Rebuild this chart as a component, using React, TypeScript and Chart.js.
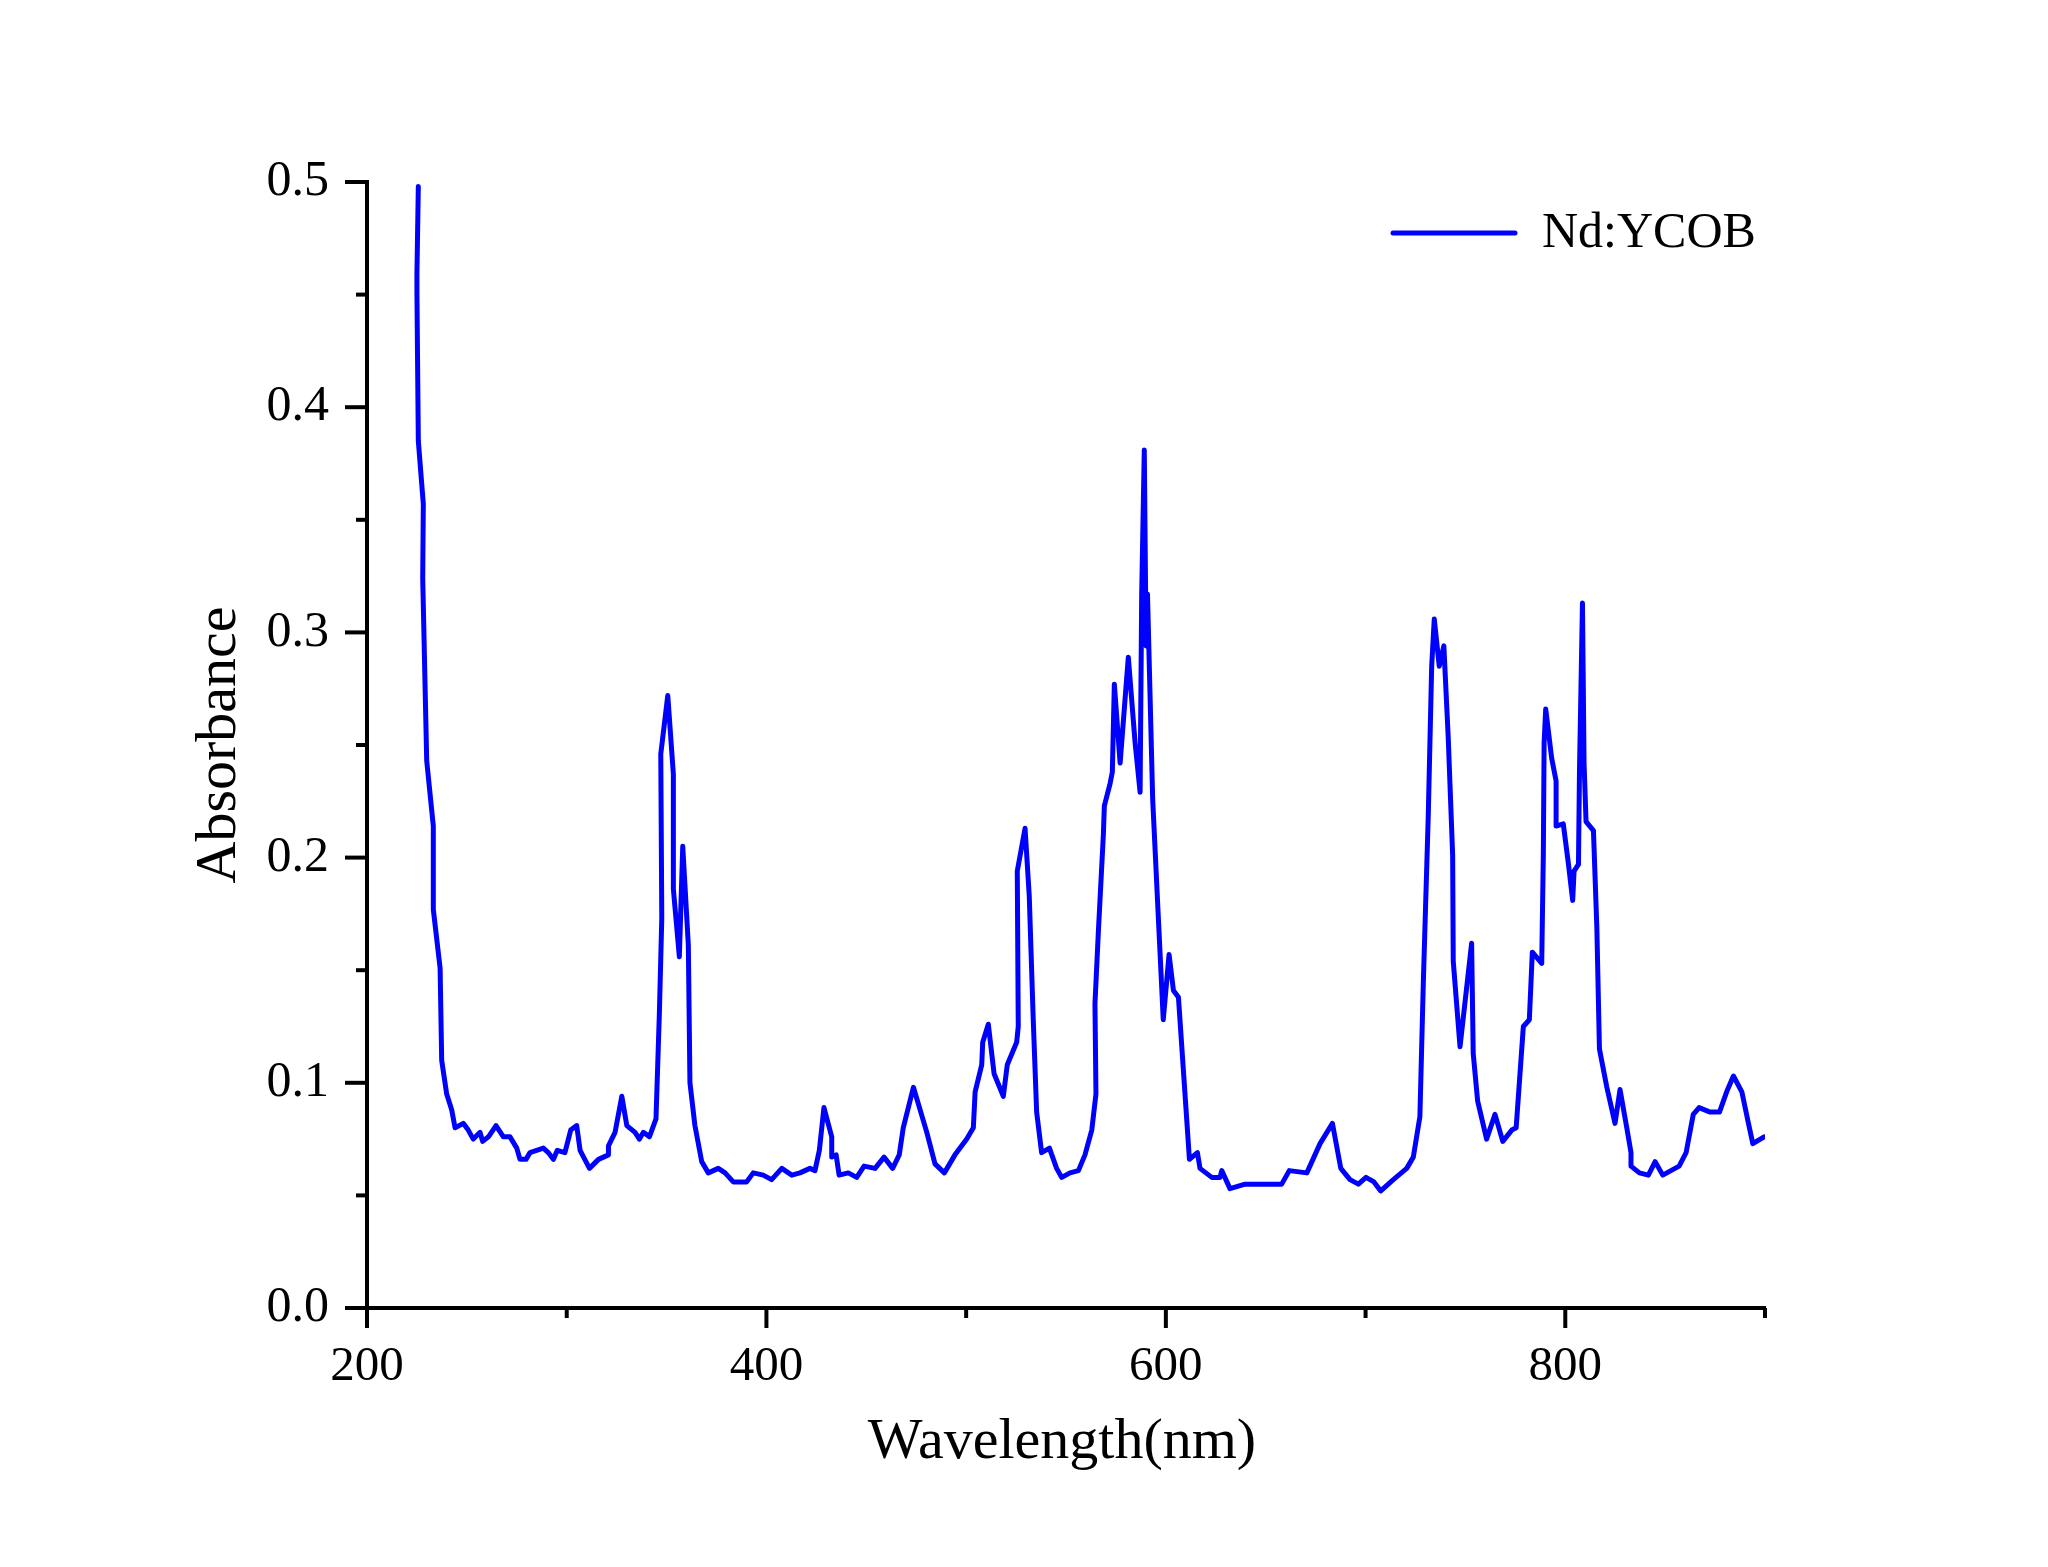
import { useEffect, useRef } from "react"
import { Chart, registerables } from "chart.js"

Chart.register(...registerables)

const SERIES_LABEL = "Nd:YCOB"
const X_TITLE = "Wavelength(nm)"
const Y_TITLE = "Absorbance"

// wavelength (nm) and absorbance
const WAVELENGTHS = [
  225.7, 225.0, 225.0, 225.7, 228.2, 227.9, 229.9, 233.2, 233.2, 236.6, 237.4, 239.9, 242.4, 244.1, 248.2, 250.7,
  253.2, 256.6, 257.9, 260.8, 264.6, 268.3, 271.6, 275.0, 276.6, 279.6, 281.6, 288.3, 290.8, 293.3, 295.3, 299.1,
  302.0, 305.0, 306.7, 311.4, 315.9, 320.9, 320.9, 324.2, 327.6, 330.1, 334.2, 336.4, 338.4, 341.4, 344.7, 346.4,
  347.6, 347.1, 350.6, 353.4, 353.4, 356.4, 358.1, 360.9, 361.7, 364.2, 367.6, 370.9, 375.9, 379.3, 383.4, 390.1,
  393.4, 398.4, 402.6, 407.7, 412.7, 416.8, 421.8, 424.3, 426.5, 428.8, 432.7, 432.7, 434.9, 436.4, 441.0, 445.2,
  448.9, 454.4, 458.9, 463.2, 466.5, 468.5, 473.6, 480.3, 484.4, 489.1, 494.4, 500.3, 503.6, 504.5, 507.8, 508.3,
  511.1, 514.0, 518.6, 520.6, 525.3, 526.1, 525.6, 529.5, 531.6, 533.6, 535.3, 537.8, 541.7, 545.3, 547.9, 552.0,
  556.2, 559.5, 562.9, 565.0, 564.5, 566.2, 568.7, 569.2, 572.1, 573.2, 574.2, 577.1, 581.2, 584.6, 587.1, 587.9,
  589.2, 590.1, 590.8, 593.4, 596.2, 598.7, 601.6, 603.8, 606.3, 611.8, 615.8, 617.1, 623.0, 627.1, 628.0, 632.1,
  639.7, 658.0, 661.8, 670.6, 677.2, 683.4, 687.6, 692.2, 696.4, 700.2, 704.2, 707.6, 713.9, 720.6, 723.9, 727.2,
  728.9, 731.4, 733.1, 734.4, 736.9, 739.2, 741.4, 743.6, 743.9, 747.3, 753.1, 753.9, 756.1, 760.6, 764.8, 768.7,
  773.2, 775.4, 779.0, 782.0, 783.5, 788.2, 789.0, 789.4, 790.2, 793.2, 795.4, 795.4, 799.0, 801.6, 803.7, 804.4,
  806.6, 807.1, 808.6, 809.4, 810.4, 814.1, 815.8, 817.1, 820.8, 824.9, 827.4, 830.8, 832.9, 832.9, 837.1, 841.6,
  845.0, 848.8, 857.0, 860.5, 864.1, 867.0, 872.5, 877.2, 880.8, 884.2, 888.4, 891.7, 893.9, 899.5,
]

const ABSORBANCE = [
  0.498, 0.459, 0.451, 0.385, 0.357, 0.324, 0.243, 0.214, 0.177, 0.151, 0.110, 0.095, 0.088, 0.080, 0.082, 0.079,
  0.075, 0.078, 0.074, 0.076, 0.081, 0.076, 0.076, 0.071, 0.066, 0.066, 0.069, 0.071, 0.069, 0.066, 0.070, 0.069,
  0.079, 0.081, 0.070, 0.062, 0.066, 0.068, 0.072, 0.078, 0.094, 0.081, 0.078, 0.075, 0.078, 0.076, 0.084, 0.131,
  0.173, 0.246, 0.272, 0.237, 0.186, 0.156, 0.205, 0.161, 0.100, 0.081, 0.065, 0.060, 0.062, 0.060, 0.056, 0.056,
  0.060, 0.059, 0.057, 0.062, 0.059, 0.060, 0.062, 0.061, 0.070, 0.089, 0.076, 0.067, 0.068, 0.059, 0.060, 0.058,
  0.063, 0.062, 0.067, 0.062, 0.068, 0.080, 0.098, 0.078, 0.064, 0.060, 0.068, 0.075, 0.080, 0.096, 0.108, 0.118,
  0.126, 0.104, 0.094, 0.108, 0.118, 0.125, 0.194, 0.213, 0.183, 0.128, 0.087, 0.069, 0.071, 0.062, 0.058, 0.060,
  0.061, 0.068, 0.079, 0.095, 0.135, 0.167, 0.210, 0.223, 0.233, 0.238, 0.277, 0.242, 0.289, 0.251, 0.229, 0.317,
  0.381, 0.294, 0.317, 0.226, 0.174, 0.128, 0.157, 0.141, 0.138, 0.066, 0.069, 0.062, 0.058, 0.058, 0.061, 0.053,
  0.055, 0.055, 0.061, 0.060, 0.073, 0.082, 0.062, 0.057, 0.055, 0.058, 0.056, 0.052, 0.057, 0.062, 0.067, 0.085,
  0.144, 0.219, 0.285, 0.306, 0.285, 0.294, 0.253, 0.201, 0.154, 0.116, 0.162, 0.113, 0.092, 0.075, 0.086, 0.074,
  0.079, 0.080, 0.125, 0.128, 0.158, 0.153, 0.201, 0.251, 0.266, 0.244, 0.234, 0.214, 0.215, 0.197, 0.181, 0.194,
  0.197, 0.238, 0.313, 0.242, 0.216, 0.212, 0.169, 0.115, 0.098, 0.082, 0.097, 0.080, 0.069, 0.063, 0.060, 0.059,
  0.065, 0.059, 0.063, 0.069, 0.086, 0.089, 0.087, 0.087, 0.096, 0.103, 0.096, 0.082, 0.073, 0.076,
]

const X_TICKS = [200, 400, 600, 800]
const X_MINOR_TICKS = [300, 500, 700, 900]
const Y_TICKS = [0, 0.1, 0.2, 0.3, 0.4, 0.5]
const Y_MINOR_TICKS = [0.05, 0.15, 0.25, 0.35, 0.45]

const BLUE = "#0000ff"
const SERIF = "'Liberation Serif', 'Times New Roman', serif"

// tick marks, axis titles and legend drawn by hand (Origin style)
const decorPlugin = {
  id: "decor",
  afterDraw(chart: Chart) {
    const { ctx, chartArea } = chart
    const xs = chart.scales.x
    const ys = chart.scales.y
    ctx.save()
    ctx.strokeStyle = "#000"
    ctx.lineWidth = 4
    ctx.lineCap = "butt"
    const yTick = (v: number, len: number) => {
      const p = ys.getPixelForValue(v)
      ctx.beginPath()
      ctx.moveTo(chartArea.left, p)
      ctx.lineTo(chartArea.left - len, p)
      ctx.stroke()
    }
    const xTick = (v: number, len: number) => {
      const p = xs.getPixelForValue(v)
      ctx.beginPath()
      ctx.moveTo(p, chartArea.bottom)
      ctx.lineTo(p, chartArea.bottom + len)
      ctx.stroke()
    }
    Y_TICKS.forEach((v) => yTick(v, 22))
    Y_MINOR_TICKS.forEach((v) => yTick(v, 11))
    X_TICKS.forEach((v) => xTick(v, 20))
    X_MINOR_TICKS.forEach((v) => xTick(v, 10))

    // axis titles
    ctx.fillStyle = "#000"
    ctx.font = `58px ${SERIF}`
    ctx.textAlign = "center"
    ctx.textBaseline = "alphabetic"
    ctx.fillText(X_TITLE, (chartArea.left + chartArea.right) / 2 - 4, chartArea.bottom + 150)

    ctx.save()
    ctx.translate(chartArea.left - 147, (chartArea.top + chartArea.bottom) / 2)
    ctx.rotate(-Math.PI / 2)
    ctx.textBaseline = "middle"
    ctx.fillText(Y_TITLE, 0, 0)
    ctx.restore()

    // legend
    const ly = chartArea.top + 51
    ctx.strokeStyle = BLUE
    ctx.lineWidth = 5
    ctx.lineCap = "round"
    ctx.beginPath()
    ctx.moveTo(chartArea.right - 372, ly)
    ctx.lineTo(chartArea.right - 250, ly)
    ctx.stroke()
    ctx.font = `50px ${SERIF}`
    ctx.textAlign = "left"
    ctx.textBaseline = "middle"
    ctx.fillText(SERIES_LABEL, chartArea.right - 223, ly + 1)
    ctx.restore()
  },
}

export default function App() {
  const chartRef = useRef<HTMLCanvasElement>(null)
  const chartInstance = useRef<Chart | null>(null)

  useEffect(() => {
    if (!chartRef.current) return
    const ctx = chartRef.current.getContext("2d")
    if (!ctx) return

    if (chartInstance.current) {
      chartInstance.current.destroy()
    }

    chartInstance.current = new Chart(ctx, {
      type: "line",
      data: {
        datasets: [
          {
            label: SERIES_LABEL,
            data: WAVELENGTHS.map((x, i) => ({ x, y: ABSORBANCE[i] })),
            borderColor: BLUE,
            borderWidth: 5,
            borderJoinStyle: "round",
            borderCapStyle: "round",
            pointRadius: 0,
            tension: 0,
            fill: false,
          },
        ],
      },
      options: {
        animation: false,
        responsive: true,
        maintainAspectRatio: false,
        devicePixelRatio: 1,
        layout: {
          padding: { top: 182, right: 283, left: 0, bottom: 0 },
        },
        plugins: {
          legend: { display: false },
          tooltip: { enabled: false },
        },
        scales: {
          x: {
            type: "linear",
            min: 200,
            max: 900,
            grid: { display: false, drawTicks: false },
            border: { display: true, color: "#000", width: 4 },
            afterBuildTicks: (scale) => {
              scale.ticks = X_TICKS.map((value) => ({ value }))
            },
            afterFit: (scale) => {
              scale.height = 259
            },
            ticks: {
              padding: 30,
              color: "#000",
              font: { family: SERIF, size: 49 },
              maxRotation: 0,
              callback: (value) => String(value),
            },
          },
          y: {
            type: "linear",
            min: 0,
            max: 0.5,
            grid: { display: false, drawTicks: false },
            border: { display: true, color: "#000", width: 4 },
            afterBuildTicks: (scale) => {
              scale.ticks = Y_TICKS.map((value) => ({ value }))
            },
            afterFit: (scale) => {
              scale.width = 367
            },
            ticks: {
              padding: 38,
              color: "#000",
              font: { family: SERIF, size: 50 },
              callback: (value) => Number(value).toFixed(1),
            },
          },
        },
      },
      plugins: [decorPlugin],
    })

    return () => {
      if (chartInstance.current) {
        chartInstance.current.destroy()
        chartInstance.current = null
      }
    }
  }, [])

  return (
    <div style={{ position: "absolute", left: 0, top: 0, width: 2048, height: 1567, background: "#fff" }}>
      <canvas ref={chartRef} />
    </div>
  )
}
